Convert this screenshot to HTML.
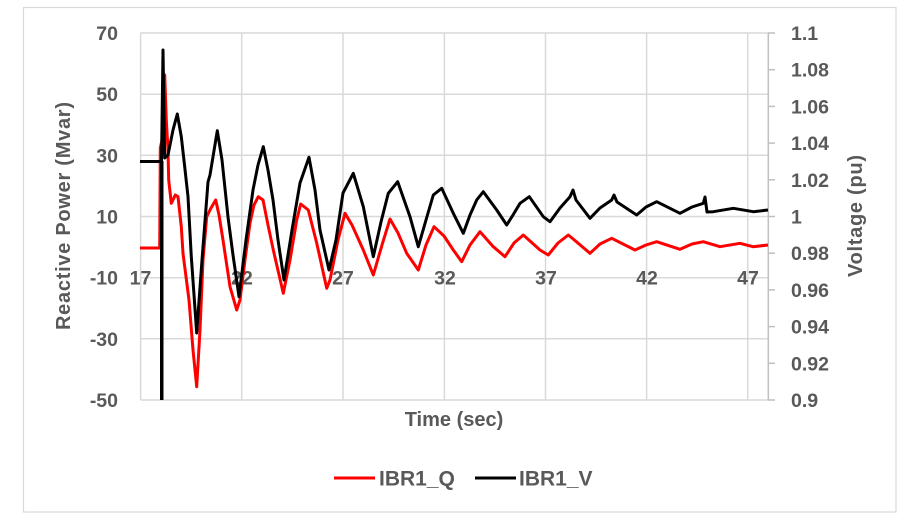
<!DOCTYPE html>
<html><head><meta charset="utf-8"><style>
html,body{margin:0;padding:0;background:#fff;}
svg{display:block;}
text{font-family:"Liberation Sans",Arial,sans-serif;font-weight:bold;fill:#595959;}
</style></head><body>
<svg width="920" height="518" viewBox="0 0 920 518" xmlns="http://www.w3.org/2000/svg">
<rect x="0" y="0" width="920" height="518" fill="#fff"/>
<rect x="23.5" y="7.5" width="872.5" height="504.5" fill="none" stroke="#d9d9d9" stroke-width="1.2"/>
<g stroke="#d9d9d9" stroke-width="1.5" fill="none">
<line x1="140.6" y1="33" x2="768" y2="33"/>
<line x1="140.6" y1="94.2" x2="768" y2="94.2"/>
<line x1="140.6" y1="155.3" x2="768" y2="155.3"/>
<line x1="140.6" y1="216.5" x2="768" y2="216.5"/>
<line x1="140.6" y1="277.7" x2="768" y2="277.7"/>
<line x1="140.6" y1="338.8" x2="768" y2="338.8"/>
<line x1="140.6" y1="400" x2="768" y2="400"/>
<line x1="140.6" y1="33" x2="140.6" y2="400"/>
<line x1="241.7" y1="33" x2="241.7" y2="400"/>
<line x1="343" y1="33" x2="343" y2="400"/>
<line x1="444.4" y1="33" x2="444.4" y2="400"/>
<line x1="545.5" y1="33" x2="545.5" y2="400"/>
<line x1="646.6" y1="33" x2="646.6" y2="400"/>
<line x1="747.7" y1="33" x2="747.7" y2="400"/>
</g>
<g stroke="#bfbfbf" stroke-width="1.5">
<line x1="768.3" y1="33" x2="768.3" y2="400"/>
<line x1="768" y1="33" x2="775" y2="33"/>
<line x1="768" y1="69.7" x2="775" y2="69.7"/>
<line x1="768" y1="106.4" x2="775" y2="106.4"/>
<line x1="768" y1="143.1" x2="775" y2="143.1"/>
<line x1="768" y1="179.8" x2="775" y2="179.8"/>
<line x1="768" y1="216.5" x2="775" y2="216.5"/>
<line x1="768" y1="253.2" x2="775" y2="253.2"/>
<line x1="768" y1="289.9" x2="775" y2="289.9"/>
<line x1="768" y1="326.6" x2="775" y2="326.6"/>
<line x1="768" y1="363.3" x2="775" y2="363.3"/>
<line x1="768" y1="400" x2="775" y2="400"/>
</g>
<!-- left labels -->
<g font-size="19.5" text-anchor="end">
<text x="118" y="40">70</text>
<text x="118" y="101.2">50</text>
<text x="118" y="162.3">30</text>
<text x="118" y="223.5">10</text>
<text x="118" y="284.7">-10</text>
<text x="118" y="345.8">-30</text>
<text x="118" y="407">-50</text>
</g>
<!-- right labels -->
<g font-size="19.5" text-anchor="start">
<text x="791" y="40">1.1</text>
<text x="791" y="76.7">1.08</text>
<text x="791" y="113.4">1.06</text>
<text x="791" y="150.1">1.04</text>
<text x="791" y="186.8">1.02</text>
<text x="791" y="223.5">1</text>
<text x="791" y="260.2">0.98</text>
<text x="791" y="296.9">0.96</text>
<text x="791" y="333.6">0.94</text>
<text x="791" y="370.3">0.92</text>
<text x="791" y="407">0.9</text>
</g>
<!-- x labels -->
<g font-size="19.5" text-anchor="middle">
<text x="140.5" y="284.7">17</text>
<text x="242" y="284.7">22</text>
<text x="343" y="284.7">27</text>
<text x="445" y="284.7">32</text>
<text x="546" y="284.7">37</text>
<text x="647" y="284.7">42</text>
<text x="748" y="284.7">47</text>
</g>
<!-- axis titles -->
<text font-size="20" text-anchor="middle" x="454" y="426">Time (sec)</text>
<text font-size="20" text-anchor="middle" transform="translate(70,216) rotate(-90)" textLength="228" lengthAdjust="spacing">Reactive Power (Mvar)</text>
<text font-size="20" text-anchor="middle" transform="translate(862,216) rotate(-90)" textLength="122" lengthAdjust="spacing">Voltage (pu)</text>
<!-- red series -->
<path fill="none" stroke="#ff0000" stroke-width="3" stroke-linejoin="round" d="M140,248 L159.7,248 L160.3,148 L162,140 L164.7,75 L166.3,120 L168,150 L168.7,180 L171.3,203.3 L175.3,195 L178,196.7 L181.3,226.7 L183,253.3 L189,300 L193,350 L196.7,386.7 L200,330 L203,260 L206.7,216.7 L211,208 L215.7,200 L219,215 L223,240 L230,286.7 L236.7,310 L240,300 L245,260 L250,223 L254,205 L258.3,196.7 L263,200 L268,225 L273.3,250 L283.3,293.3 L290,260 L296.7,220 L300.7,204 L308.3,210 L316.7,243 L326.7,288.3 L330,280 L338,240 L345,213.3 L352,225 L363.3,250 L373.3,275 L382,245 L390,219 L398,233 L406.7,253.3 L418.3,270 L426,245 L434,226.7 L444,236 L453.3,250 L461.7,261.7 L470,245 L480,231.7 L493.3,246.7 L505,256.7 L514,243 L523.3,235 L540,250 L548.3,255 L558,243 L568.3,235 L572,238 L590,253.3 L600,244 L611.7,238.3 L635,250 L646,245 L656.7,241.7 L680,249.3 L692,244 L703.3,241.7 L720,246.7 L740,243.3 L753,246.7 L768,245"/>
<!-- black series -->
<rect x="160" y="161" width="3.5" height="239" fill="#000"/>
<path fill="none" stroke="#000" stroke-width="3" stroke-linejoin="round" d="M140,161.5 L161,161.5 M161.5,161 L163,50 L164.7,158 L168,155 L173,130 L177.3,114 L181.3,136.7 L184.7,166.7 L188,196.7 L191.3,256.7 L196.7,333 L202,260 L208,182 L210,175 L217.3,130.7 L222,160 L228,217 L233,255 L239,296.7 L246,240 L253,190 L258,165 L263.3,146.7 L268,170 L273,200 L278,240 L284,280 L292,230 L300,183 L309,157.3 L315,190 L320,230 L329,270 L336,240 L343,193 L353.3,173.3 L363.3,206.7 L373.3,256.7 L381,222 L388.3,193.3 L397.7,181.7 L410,216.7 L418.3,246.7 L426,220 L433.3,195 L441.7,188.3 L453.3,213.3 L463.3,233.3 L470,215 L476.7,200 L483.3,191.7 L496.7,210 L506.7,225 L513,215 L520,203.3 L529.3,196.7 L543.3,216.7 L550,221.7 L560,208 L570,196.7 L573,190 L576,200 L590,218.3 L600,208 L611.7,200 L614,195 L617,202 L636.7,215 L646,207 L656.7,201.7 L680,213.3 L692,207 L703.3,203.3 L705,197 L707,212 L713.3,211.7 L733.3,208.3 L753.3,211.7 L768,210"/>
<!-- legend -->
<line x1="334" y1="478" x2="375" y2="478" stroke="#ff0000" stroke-width="3"/>
<text font-size="21" x="379" y="485.5">IBR1_Q</text>
<line x1="475" y1="478" x2="516" y2="478" stroke="#000" stroke-width="3"/>
<text font-size="21" x="519" y="485.5">IBR1_V</text>
</svg>
</body></html>
